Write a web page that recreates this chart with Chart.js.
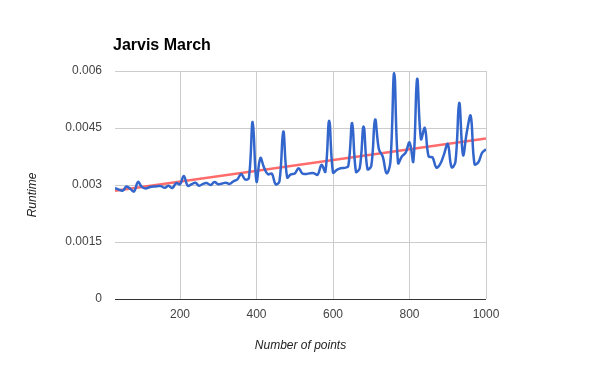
<!DOCTYPE html>
<html lang="en">

<head>
    <meta charset="UTF-8" />
    <title>Jarvis March</title>
    <style>
        html, body { margin: 0; padding: 0; background: #fff; }
        #wrap { width: 600px; height: 371px; }
    </style>
</head>

<body>
    <div id="wrap"><canvas id="myChart" width="600" height="371"></canvas></div>

    <script src="https://cdn.jsdelivr.net/npm/chart.js@4/dist/chart.umd.min.js"></script>
    <script>
        // data
        var points = [30, 40, 50, 60, 70, 80, 90, 100, 110, 120, 130, 140, 150, 160, 170, 180, 190, 200,
            210, 220, 230, 240, 250, 260, 270, 280, 290, 300, 310, 320, 330, 340, 350, 360, 370, 380, 390, 400,
            410, 420, 430, 440, 450, 460, 470, 480, 490, 500, 510, 520, 530, 540, 550, 560, 570, 580, 590, 600,
            610, 620, 630, 640, 650, 660, 670, 680, 690, 700, 710, 720, 730, 740, 750, 760, 770, 780, 790, 800,
            810, 820, 830, 840, 850, 860, 870, 880, 890, 900, 910, 920, 930, 940, 950, 960, 970, 980, 990, 1000];
        var runtime = [0.00292, 0.00288, 0.00285, 0.00296, 0.00290, 0.00283, 0.00308, 0.00295, 0.00291, 0.00294,
            0.00296, 0.00297, 0.00297, 0.00293, 0.00298, 0.00292, 0.00305, 0.00302, 0.00324, 0.00298,
            0.00302, 0.00306, 0.00298, 0.00303, 0.00305, 0.00300, 0.00308, 0.00302, 0.00304, 0.00306,
            0.00303, 0.00310, 0.00315, 0.00329, 0.00315, 0.00318, 0.00466, 0.00309, 0.00371, 0.00345,
            0.00328, 0.00330, 0.00302, 0.00310, 0.00441, 0.00320, 0.00328, 0.00330, 0.00344, 0.00330,
            0.00329, 0.00331, 0.00331, 0.00327, 0.00353, 0.00335, 0.00469, 0.00333, 0.00340, 0.00344,
            0.00345, 0.00350, 0.00463, 0.00335, 0.00345, 0.00454, 0.00342, 0.00350, 0.00472, 0.00394,
            0.00375, 0.00331, 0.00360, 0.00595, 0.00358, 0.00375, 0.00385, 0.00412, 0.00362, 0.00579,
            0.00421, 0.00450, 0.00375, 0.00373, 0.00346, 0.00355, 0.00380, 0.00408, 0.00347, 0.00360,
            0.00516, 0.00379, 0.00440, 0.00482, 0.00355, 0.00360, 0.00385, 0.00394];
        // linear trendline end points
        var trendX = [30, 1000];
        var trendY = [0.002846, 0.004224];
        var xTicks = [200, 400, 600, 800, 1000];
        var yTicks = [0, 0.0015, 0.003, 0.0045, 0.006];

        Chart.defaults.font.family = 'Arial, "Liberation Sans", sans-serif';
        Chart.defaults.color = '#444';

        // title and axis titles, placed like the google chart
        var labels = {
            id: 'labels',
            afterDraw: function (chart) {
                var c = chart.ctx, a = chart.chartArea;
                c.save();
                c.fillStyle = '#000';
                c.font = 'bold 16px Arial, "Liberation Sans", sans-serif';
                c.textAlign = 'left';
                c.textBaseline = 'alphabetic';
                c.fillText('Jarvis March', a.left - 2, a.top - 21);
                c.fillStyle = '#222';
                c.font = 'italic 12px Arial, "Liberation Sans", sans-serif';
                c.textAlign = 'center';
                c.textBaseline = 'middle';
                c.fillText('Number of points', (a.left + a.right) / 2, a.bottom + 47);
                c.translate(a.left - 82, (a.top + a.bottom) / 2 + 10);
                c.rotate(-Math.PI / 2);
                c.fillText('Runtime', 0, 0);
                c.restore();
            }
        };

        var ctx = document.getElementById('myChart').getContext('2d');
        var myChart = new Chart(ctx, {
            type: 'line',
            data: {
                datasets: [
                    {
                        label: 'Runtime',
                        data: points.map(function (p, i) { return { x: p, y: runtime[i] }; }),
                        borderColor: '#3366cc',
                        borderWidth: 2.5,
                        pointRadius: 0,
                        tension: 0.4,
                        fill: false
                    },
                    {
                        label: 'Trend',
                        data: trendX.map(function (p, i) { return { x: p, y: trendY[i] }; }),
                        borderColor: 'rgba(255, 70, 70, 0.8)',
                        borderWidth: 2.5,
                        pointRadius: 0,
                        fill: false
                    }]
            },
            options: {
                responsive: false,
                animation: false,
                layout: { padding: { top: 71, right: 114, left: 0, bottom: 0 } },
                plugins: {
                    legend: { display: false },
                    tooltip: { enabled: false }
                },
                scales: {
                    x: {
                        type: 'linear',
                        min: 30,
                        max: 1000,
                        afterBuildTicks: function (s) { s.ticks = xTicks.map(function (v) { return { value: v }; }); },
                        afterFit: function (s) { s.height = 72; },
                        border: { display: false },
                        grid: { color: '#cccccc', drawTicks: false },
                        ticks: {
                            padding: 8,
                            font: { size: 12 },
                            maxRotation: 0,
                            callback: function (v) { return String(v); }
                        }
                    },
                    y: {
                        min: 0,
                        max: 0.006,
                        afterBuildTicks: function (s) { s.ticks = yTicks.map(function (v) { return { value: v }; }); },
                        afterFit: function (s) { s.width = 115; },
                        border: { display: false },
                        grid: {
                            drawTicks: false,
                            color: function (c) { return c.tick && c.tick.value === 0 ? '#333333' : '#cccccc'; }
                        },
                        ticks: {
                            padding: 13,
                            font: { size: 12 },
                            callback: function (v) { return String(v); }
                        }
                    }
                }
            },
            plugins: [labels]
        });
    </script>
</body>

</html>
